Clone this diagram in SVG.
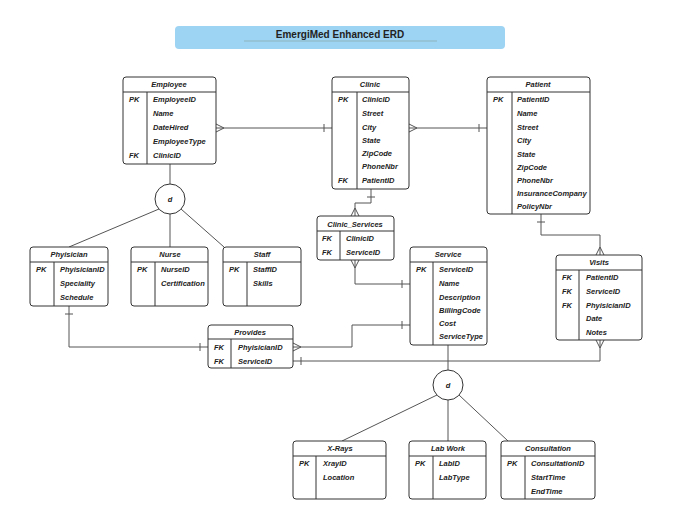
<svg xmlns="http://www.w3.org/2000/svg" width="680" height="526" viewBox="0 0 680 526">
<style>
text{font-family:"Liberation Sans",Arial,sans-serif;font-size:7.5px;font-weight:bold;font-style:italic;fill:#222}
.h{text-anchor:middle}
.b{fill:#fff;stroke:#333;stroke-width:1}
.l{fill:none;stroke:#333;stroke-width:1}
.c{fill:none;stroke:#555;stroke-width:1}
</style>
<rect width="680" height="526" fill="#fff"/>
<g id="title">
<rect x="175" y="26" width="330" height="23" rx="4" fill="#9dd3f3"/>
<line x1="244" y1="41" x2="437" y2="41" stroke="#8aa" stroke-width="0.7"/>
<text x="340" y="38" class="h" style="font-style:normal;font-size:10px">EmergiMed Enhanced ERD</text>
</g>
<g id="connectors">
<path class="c" d="M216 128H332M324 124v8M216 124l8 4-8 4"/>
<path class="c" d="M409 128H487M479 124v8M409 124l8 4-8 4"/>
<path class="c" d="M371 189v14H355v13M367 197h8M351 216l4-8 4 8"/>
<path class="c" d="M355 260v24H410M402 280v8M351 260l4 8 4-8"/>
<path class="c" d="M541 214v21H600v20M537 222h8M596 255l4-8 4 8"/>
<path class="c" d="M69 306v41H208M65 314h8M200 343v8"/>
<path class="c" d="M293 347H352V325H410M402 321v8M293 343l8 4-8 4"/>
<path class="c" d="M293 361H600V340M301 357v8M596 340l4 8 4-8"/>
<path class="c" d="M170 164v20M159 209L69 247M170 214v33M181 209L224 247"/>
<path class="c" d="M448 345v25M437 395L342 441M448 400v41M459 395L508 441"/>
<circle cx="170" cy="199" r="15" class="b"/><text x="170" y="202" class="h">d</text>
<circle cx="448" cy="385" r="15" class="b"/><text x="448" y="388" class="h">d</text>
</g>
<g id="Employee"><rect x="123" y="77" width="93" height="87" rx="3" class="b"/><path class="l" d="M123 92H216M147 92V164"/>
<text x="169" y="87" class="h">Employee</text><text x="129" y="102">PK</text><text x="129" y="158">FK</text>
<text x="153" y="102">EmployeeID</text><text x="153" y="116">Name</text><text x="153" y="130">DateHired</text><text x="153" y="144">EmployeeType</text><text x="153" y="158">ClinicID</text></g>
<g id="Clinic"><rect x="332" y="77" width="77" height="112" rx="3" class="b"/><path class="l" d="M332 92H409M357 92V189"/>
<text x="370" y="87" class="h">Clinic</text><text x="338" y="102">PK</text><text x="338" y="183">FK</text>
<text x="362" y="102">ClinicID</text><text x="362" y="116">Street</text><text x="362" y="130">City</text><text x="362" y="143">State</text><text x="362" y="156">ZipCode</text><text x="362" y="169">PhoneNbr</text><text x="362" y="183">PatientID</text></g>
<g id="Patient"><rect x="487" y="77" width="103" height="137" rx="3" class="b"/><path class="l" d="M487 92H590M512 92V214"/>
<text x="538" y="87" class="h">Patient</text><text x="493" y="102">PK</text>
<text x="517" y="102">PatientID</text><text x="517" y="116">Name</text><text x="517" y="130">Street</text><text x="517" y="143">City</text><text x="517" y="157">State</text><text x="517" y="170">ZipCode</text><text x="517" y="183">PhoneNbr</text><text x="517" y="196">InsuranceCompany</text><text x="517" y="209">PolicyNbr</text></g>
<g id="Clinic_Services"><rect x="317" y="216" width="77" height="44" rx="3" class="b"/><path class="l" d="M317 231H394M340 231V260"/>
<text x="355" y="227" class="h">Clinic_Services</text><text x="322" y="241">FK</text><text x="322" y="255">FK</text><text x="346" y="241">ClinicID</text><text x="346" y="255">ServiceID</text></g>
<g id="Phyisician"><rect x="30" y="247" width="78" height="59" rx="3" class="b"/><path class="l" d="M30 262H108M54 262V306"/>
<text x="69" y="257" class="h">Phyisician</text><text x="36" y="272">PK</text><text x="60" y="272">PhyisicianID</text><text x="60" y="286">Speciality</text><text x="60" y="300">Schedule</text></g>
<g id="Nurse"><rect x="131" y="247" width="77" height="59" rx="3" class="b"/><path class="l" d="M131 262H208M155 262V306"/>
<text x="170" y="257" class="h">Nurse</text><text x="137" y="272">PK</text><text x="161" y="272">NurseID</text><text x="161" y="286">Certification</text></g>
<g id="Staff"><rect x="223" y="247" width="78" height="59" rx="3" class="b"/><path class="l" d="M223 262H301M247 262V306"/>
<text x="262" y="257" class="h">Staff</text><text x="229" y="272">PK</text><text x="253" y="272">StaffID</text><text x="253" y="286">Skills</text></g>
<g id="Service"><rect x="410" y="247" width="77" height="98" rx="3" class="b"/><path class="l" d="M410 262H487M433 262V345"/>
<text x="448" y="257" class="h">Service</text><text x="416" y="272">PK</text>
<text x="439" y="272">ServiceID</text><text x="439" y="286">Name</text><text x="439" y="300">Description</text><text x="439" y="313">BillingCode</text><text x="439" y="326">Cost</text><text x="439" y="339">ServiceType</text></g>
<g id="Visits"><rect x="556" y="255" width="86" height="85" rx="3" class="b"/><path class="l" d="M556 270H642M579 270V340"/>
<text x="599" y="265" class="h">Visits</text><text x="562" y="280">FK</text><text x="562" y="294">FK</text><text x="562" y="308">FK</text>
<text x="586" y="280">PatientID</text><text x="586" y="294">ServiceID</text><text x="586" y="308">PhyisicianID</text><text x="586" y="321">Date</text><text x="586" y="335">Notes</text></g>
<g id="Provides"><rect x="208" y="325" width="85" height="43" rx="3" class="b"/><path class="l" d="M208 339H293M231 339V368"/>
<text x="250" y="335" class="h">Provides</text><text x="214" y="350">FK</text><text x="214" y="364">FK</text><text x="238" y="350">PhyisicianID</text><text x="238" y="364">ServiceID</text></g>
<g id="XRays"><rect x="293" y="441" width="93" height="58" rx="3" class="b"/><path class="l" d="M293 456H386M316 456V499"/>
<text x="340" y="451" class="h">X-Rays</text><text x="299" y="466">PK</text><text x="323" y="466">XrayID</text><text x="323" y="480">Location</text></g>
<g id="LabWork"><rect x="409" y="441" width="77" height="58" rx="3" class="b"/><path class="l" d="M409 456H486M433 456V499"/>
<text x="448" y="451" class="h">Lab Work</text><text x="415" y="466">PK</text><text x="439" y="466">LabID</text><text x="439" y="480">LabType</text></g>
<g id="Consultation"><rect x="501" y="441" width="94" height="58" rx="3" class="b"/><path class="l" d="M501 456H595M525 456V499"/>
<text x="548" y="451" class="h">Consultation</text><text x="507" y="466">PK</text><text x="531" y="466">ConsultationID</text><text x="531" y="480">StartTime</text><text x="531" y="494">EndTime</text></g>
</svg>
